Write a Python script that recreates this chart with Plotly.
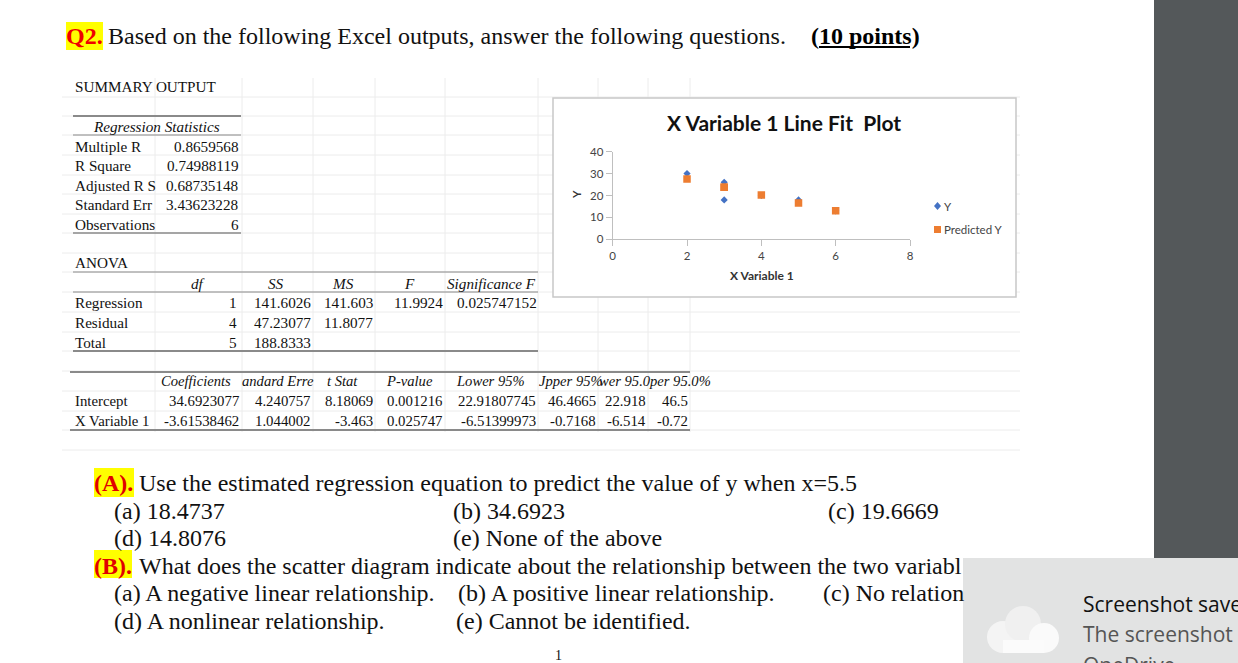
import plotly.graph_objects as go

W, H = 1238, 663

# ---- data -------------------------------------------------------------
x_values = [2, 3, 3, 4, 5, 6]
y_observed = [30, 26, 18, 20, 18, 13]
y_predicted = [27.5, 23.8, 23.8, 20.2, 16.6, 13.0]
x_ticks = [0, 2, 4, 6, 8]
y_ticks = [0, 10, 20, 30, 40]

regression_rows = [("Multiple R", "0.8659568"), ("R Square", "0.74988119"),
                   ("Adjusted R S", "0.68735148"), ("Standard Err", "3.43623228"),
                   ("Observations", "6")]
anova_head = ["df", "SS", "MS", "F", "Significance F"]
anova_rows = [("Regression", "1", "141.6026", "141.603", "11.9924", "0.025747152"),
              ("Residual", "4", "47.23077", "11.8077", "", ""),
              ("Total", "5", "188.8333", "", "", "")]
coef_head = ["Coefficients", "andard Erre", "t Stat", "P-value", "Lower 95%", "Jpper 95%", "wer 95.0", "per 95.0%"]
coef_rows = [("Intercept", "34.6923077", "4.240757", "8.18069", "0.001216", "22.91807745", "46.4665", "22.918", "46.5"),
             ("X Variable 1", "-3.61538462", "1.044002", "-3.463", "0.025747", "-6.51399973", "-0.7168", "-6.514", "-0.72")]


def px(x):
    return x / W


def py(y):
    return 1 - y / H


fig = go.Figure()
fig.add_trace(go.Scatter(x=x_values, y=y_observed, mode="markers", name="Y",
                         marker=dict(symbol="diamond", size=5.5, color="#4472c4")))
fig.add_trace(go.Scatter(x=x_values, y=y_predicted, mode="markers", name="Predicted Y",
                         marker=dict(symbol="square", size=7.5, color="#ed7d31")))

shapes = []
annots = []


def line(x0, y0, x1, y1, color="#ececec", width=1, layer="below"):
    shapes.append(dict(type="line", xref="paper", yref="paper", x0=px(x0), y0=py(y0), x1=px(x1), y1=py(y1),
                       line=dict(color=color, width=width), layer=layer))


def rect(x0, y0, x1, y1, fill, border=None, layer="below", bw=1):
    shapes.append(dict(type="rect", xref="paper", yref="paper", x0=px(x0), y0=py(y0), x1=px(x1), y1=py(y1),
                       fillcolor=fill, line=dict(color=border or fill, width=bw if border else 0), layer=layer))


def circle(cx, cy, r, fill, layer="above"):
    shapes.append(dict(type="circle", xref="paper", yref="paper", x0=px(cx - r), y0=py(cy - r), x1=px(cx + r), y1=py(cy + r),
                       fillcolor=fill, line=dict(width=0), layer=layer))


def text(x, y, s, size=24, anchor="left", font="Liberation Serif", color="#111111", bold=False, italic=False, angle=0):
    if bold:
        s = "<b>" + s + "</b>"
    if italic:
        s = "<i>" + s + "</i>"
    annots.append(dict(xref="paper", yref="paper", x=px(x), y=py(y), text=s, showarrow=False, xanchor=anchor,
                       yanchor="middle", font=dict(family=font, size=size, color=color), textangle=angle,
                       borderpad=0, borderwidth=0))


TS = 15.2
# ---- spreadsheet grid --------------------------------------------------
for yy in [97, 116, 135, 155, 175, 194, 214, 233, 253, 272, 292, 312, 332, 351, 371, 391, 411, 430, 450]:
    line(62, yy, 1020, yy)
for xx in [155, 242, 313, 375, 445, 538, 598, 648, 690]:
    line(xx, 78, xx, 432)

# table rules
for yy, x0, x1, w in [(116, 73, 241, 2), (135, 73, 241, 1), (233, 73, 241, 1.5),
                      (272, 73, 538, 1.2), (292, 73, 538, 1), (351, 73, 538, 2),
                      (372, 70, 690, 2), (430, 70, 690, 2)]:
    line(x0, yy, x1, yy, color="#8a8a8a", width=w)

# ---- summary text ------------------------------------------------------
text(75, 87, "SUMMARY OUTPUT", TS)
text(156, 127, "Regression Statistics", TS, "center", italic=True)
for i, (a, b) in enumerate(regression_rows):
    yc = 146 + i * 19.6
    text(75, yc, a, TS)
    text(239, yc, b, TS, "right")
text(75, 263, "ANOVA", TS)
for xc, s in zip([198, 276, 343, 409, 491], anova_head):
    text(xc, 283, s, TS, "center", italic=True)
anova_right = [237, 311, 373, 443, 537]
for i, row in enumerate(anova_rows):
    yc = 303 + i * 19.5
    text(75, yc, row[0], TS)
    for xr, s in zip(anova_right, row[1:]):
        if s:
            text(xr, yc, s, TS, "right")

coef_left = [161, 242, 327, 386, 456, 539, 599, 649]
for xl, s in zip(coef_left, coef_head):
    text(xl, 381, s, 14.6, "left", italic=True)
coef_right = [239, 311, 373, 443, 536, 596, 646, 688]
for i, row in enumerate(coef_rows):
    yc = 401 + i * 19.6
    text(75, yc, row[0], 14.8)
    for xr, s in zip(coef_right, row[1:]):
        text(xr, yc, s, 14.8, "right")

# ---- chart frame -------------------------------------------------------
rect(553, 98, 1016, 297, "#ffffff", "#c8c8c8", bw=1.5)
text(784, 122, "X Variable 1 Line Fit  Plot", 21, "center", font="Lato", color="#111111", bold=True)
text(762, 275, "X Variable 1", 12, "center", font="Lato", color="#333333", bold=True)
text(576, 195, "Y", 11.5, "center", font="Lato", color="#333333", bold=True, angle=-90)
shapes.append(dict(type="path", xref="paper", yref="paper",
                   path=f"M {px(937.5)} {py(202)} L {px(941)} {py(206)} L {px(937.5)} {py(210)} L {px(934)} {py(206)} Z",
                   fillcolor="#4472c4", line=dict(width=0), layer="above"))
rect(934, 226, 941, 233, "#ed7d31", layer="above")
text(944, 206, "Y", 11.5, font="Lato", color="#444444")
text(944, 229.5, "Predicted Y", 11.5, font="Lato", color="#444444")

# ---- document text -----------------------------------------------------
rect(66, 22, 103, 50, "#ffff00")
text(66, 36, "Q2.", 24, color="#f00000", bold=True)
text(108, 36, "Based on the following Excel outputs, answer the following questions.", 24)
text(811, 36, "(10 points)", 24, color="#000000", bold=True)
line(819, 47, 910, 47, color="#000000", width=2, layer="above")

rect(94, 468, 134, 497, "#ffff00")
text(94, 483, "(A).", 24, color="#e00000", bold=True)
text(139, 483, "Use the estimated regression equation to predict the value of y when x=5.5", 24)
text(114, 511, "(a) 18.4737", 24)
text(453, 511, "(b) 34.6923", 24)
text(828, 511, "(c) 19.6669", 24)
text(114, 538, "(d) 14.8076", 24)
text(453, 538, "(e) None of the above", 24)
rect(94, 550, 132, 578, "#ffff00")
text(94, 566, "(B).", 24, color="#e00000", bold=True)
text(139, 566, "What does the scatter diagram indicate about the relationship between the two variabl", 24)
text(114, 593, "(a) A negative linear relationship.", 24)
text(458, 593, "(b) A positive linear relationship.", 24)
text(823, 593, "(c) No relation", 24)
text(114, 621, "(d) A nonlinear relationship.", 24)
text(456, 621, "(e) Cannot be identified.", 24)
text(558, 655, "1", 14, "center")

# ---- window chrome -----------------------------------------------------
rect(1154, 0, 1238, 663, "#54585a", layer="above")
rect(963, 558, 1238, 663, "#e2e3e3", layer="above")
circle(1003, 637, 16, "#f4f4f4")
circle(1023, 624, 18, "#f0f0f0")
circle(1044, 638, 15, "#fafafa")
rect(1003, 640, 1044, 653, "#fbfbfb", layer="above")
text(1083, 604, "Screenshot save", 21, font="Open Sans", color="#111111")
text(1083, 634, "The screenshot", 21, font="Open Sans", color="#555555")
text(1083, 665, "OneDrive", 21, font="Open Sans", color="#555555")

fig.update_layout(
    width=W, height=H, margin=dict(l=0, r=0, t=0, b=0, autoexpand=False), autosize=False,
    paper_bgcolor="#ffffff", plot_bgcolor="rgba(0,0,0,0)", showlegend=False,
    xaxis=dict(domain=[px(612.7), px(910)], range=[0, 8], tickvals=x_ticks, ticks="outside", ticklen=6,
               tickcolor="rgba(191,191,191,1)", showgrid=False, zeroline=False, showline=True, linecolor="#bfbfbf",
               tickfont=dict(family="Lato", size=11.5, color="#444444")),
    yaxis=dict(domain=[py(239.3), py(151.7)], range=[0, 40], tickvals=y_ticks, ticks="outside", ticklen=6,
               tickcolor="rgba(191,191,191,1)", showgrid=False, zeroline=False, showline=True, linecolor="#bfbfbf",
               tickfont=dict(family="Lato", size=11.5, color="#444444")),
    shapes=shapes, annotations=annots,
)
fig.write_html("out.html", config=dict(displayModeBar=False),
               post_script="document.body.style.margin='0';document.body.style.overflow='hidden';")
